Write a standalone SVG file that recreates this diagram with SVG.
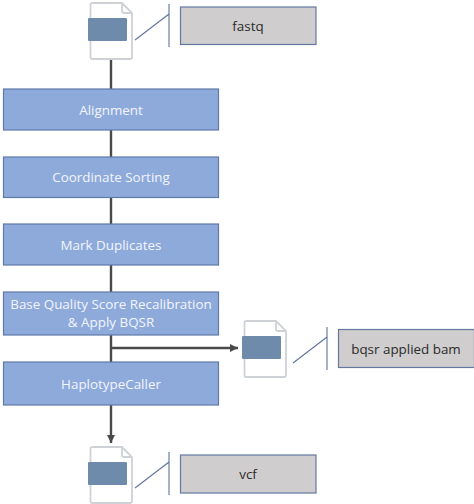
<svg xmlns="http://www.w3.org/2000/svg" width="474" height="504" viewBox="0 0 474 504">
<defs>
<marker id="arrow" markerUnits="userSpaceOnUse" markerWidth="9" markerHeight="9" refX="8" refY="4.5" orient="auto"><path d="M0 0.5L8 4.500L0 8.500Z" fill="#4a4a4a"/></marker>
<g id="doc">
<path d="M0.500 3.500Q0.500 2 2.500 2H32L42 12V56Q42 58 40 58H2.500Q0.500 58 0.500 56Z" fill="#fff" stroke="#ced2d6" stroke-width="1.800"/>
<path d="M32 2V10Q32 12 34 12H42" fill="none" stroke="#ced2d6" stroke-width="1.800"/>
<rect x="-2" y="17" width="39" height="23" rx="1" fill="#6f8bac"/>
</g>
</defs>
<style>
.step{fill:#8eaadb;stroke:#5f7aa8;stroke-width:1.200}
.box{fill:#cfcdcd;stroke:#64789f;stroke-width:1.200}
.w{font:13.400px "Open Sans","Noto Sans",sans-serif;fill:#f2f5fc;text-anchor:middle}
.d{font:13.400px "Open Sans","Noto Sans",sans-serif;fill:#2b2b2b;text-anchor:middle}
.c{fill:none;stroke:#4a4a4a;stroke-width:2.400}
.l{fill:none;stroke:#5d7399;stroke-width:1.100}
</style>
<g id="connectors">
<path class="c" d="M111 60V89M111 130V157M111 197V224M111 265V292M111 335V362"/>
<path class="c" d="M111 348H238" marker-end="url(#arrow)"/>
<path class="c" d="M111 405V443" marker-end="url(#arrow)"/>
<path class="l" d="M135 40L169 14M169 4V47"/>
<path class="l" d="M293 363L327 337M327 327V370"/>
<path class="l" d="M135 488L169 462M169 452V495"/>
</g>
<g id="fastq-file"><use href="#doc" x="90" y="1"/></g>
<g id="fastq"><rect class="box" x="180.500" y="7" width="135.500" height="37.500"/><text class="d" x="248" y="31">fastq</text></g>
<g id="alignment"><rect class="step" x="3.500" y="89" width="215" height="41"/><text class="w" x="111" y="115">Alignment</text></g>
<g id="coordinate-sorting"><rect class="step" x="3.500" y="157" width="215" height="40.500"/><text class="w" x="111" y="182">Coordinate Sorting</text></g>
<g id="mark-duplicates"><rect class="step" x="3.500" y="224" width="215" height="41"/><text class="w" x="111" y="250">Mark Duplicates</text></g>
<g id="bqsr"><rect class="step" x="3.500" y="292" width="215" height="43"/><text class="w" x="111" y="309">Base Quality Score Recalibration</text><text class="w" x="111" y="327">&amp; Apply BQSR</text></g>
<g id="haplotypecaller"><rect class="step" x="3.500" y="362" width="215" height="43"/><text class="w" x="111" y="389">HaplotypeCaller</text></g>
<g id="bam-file"><use href="#doc" x="244" y="319"/></g>
<g id="bqsr-applied-bam"><rect class="box" x="338.500" y="329.500" width="136" height="38"/><text class="d" x="406" y="354">bqsr applied bam</text></g>
<g id="vcf-file"><use href="#doc" x="90" y="445"/></g>
<g id="vcf"><rect class="box" x="180.500" y="455" width="135.500" height="38"/><text class="d" x="248" y="479">vcf</text></g>
</svg>
